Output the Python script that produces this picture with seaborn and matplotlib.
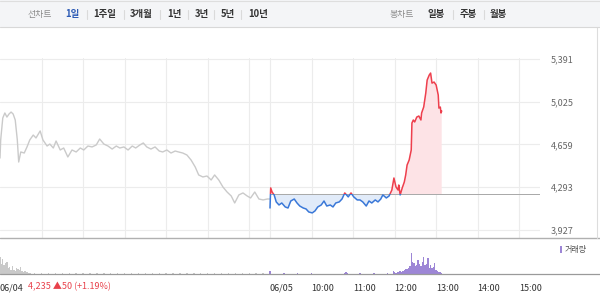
import numpy as np
import pandas as pd
import matplotlib
matplotlib.use("Agg")
import matplotlib.pyplot as plt
import seaborn as sns
from matplotlib.patches import Rectangle
from matplotlib.lines import Line2D

# ---------------- data ----------------
prev_close = 4235
y_ticks = [3927, 4293, 4659, 5025, 5391]

# 06/04 (previous day) minutes after 09:00 and price
day1_min = [0, 1, 4, 7, 10, 13, 16, 19, 22, 25, 27, 30, 35, 39, 43, 48, 52, 58, 62, 68,
            72, 77, 81, 87, 92, 98, 104, 110, 116, 121, 127, 133, 139, 144, 150, 156, 162,
            168, 173, 179, 185, 191, 196, 202, 207, 212, 218, 224, 230, 235, 241, 247, 253,
            258, 264, 270, 276, 282, 287, 293, 299, 305, 310, 316, 322, 328, 334, 339, 345,
            351, 357, 362, 368, 374, 380, 386, 390]
day1_price = [4543, 4698, 4886, 4929, 4894, 4920, 4937, 4920, 4869, 4698, 4509, 4595, 4586,
              4638, 4698, 4740, 4715, 4775, 4698, 4646, 4663, 4629, 4689, 4612, 4629, 4552,
              4612, 4595, 4629, 4612, 4646, 4638, 4655, 4706, 4663, 4646, 4620, 4646, 4629,
              4638, 4612, 4646, 4629, 4655, 4672, 4638, 4620, 4638, 4603, 4595, 4612, 4586,
              4603, 4595, 4586, 4569, 4526, 4466, 4398, 4381, 4389, 4355, 4398, 4355, 4295,
              4252, 4218, 4158, 4227, 4244, 4218, 4201, 4252, 4192, 4184, 4192, 4192]

# 06/05 (today) minutes after 09:00 and price
day2_min = [0, 1, 3, 6, 9, 13, 17, 22, 26, 30, 35, 39, 43, 48, 52, 56, 61, 65, 69, 74, 78,
            82, 87, 91, 95, 100, 104, 108, 113, 117, 121, 126, 130, 134, 139, 143, 147, 152,
            156, 160, 163, 168, 172, 176, 179, 182, 185, 186, 188, 191, 194, 196, 198, 201,
            204, 205, 207, 209, 212, 215, 218, 219, 222, 225, 227, 230, 232, 234, 237, 240,
            243, 244, 246, 247, 248]
day2_price = [4115, 4287, 4252, 4227, 4167, 4141, 4158, 4124, 4115, 4175, 4192, 4158, 4132,
              4115, 4107, 4081, 4073, 4090, 4124, 4141, 4175, 4132, 4141, 4124, 4158, 4167,
              4192, 4244, 4210, 4244, 4210, 4184, 4184, 4167, 4132, 4175, 4158, 4184, 4167,
              4192, 4227, 4201, 4218, 4269, 4372, 4295, 4269, 4312, 4227, 4287, 4338, 4398,
              4483, 4526, 4612, 4843, 4869, 4852, 4894, 4903, 4869, 4929, 4980, 5100, 5211,
              5254, 5271, 5185, 5194, 5168, 5083, 4971, 4980, 4929, 4946]

# volume (relative units)
vol1_min = [0, 2, 4, 6, 8, 10, 12, 14, 16, 18, 20, 22, 24, 26, 28, 30, 32, 34, 36, 38, 40, 42,
            44, 50, 60, 70, 80, 90, 100, 110, 120, 130, 140, 150, 160, 170, 180, 190, 200,
            210, 220, 230, 240, 250, 260, 270, 280, 290, 300, 310, 320, 330, 340, 350, 360,
            370, 380]
vol1 = [17, 10, 15, 9, 11, 12, 6, 7, 4, 8, 4, 3, 6, 5, 4, 7, 3, 2, 3, 2, 2, 1.5, 1,
        1, 0.8, 0.9, 0.7, 0.8, 1, 0.7, 0.8, 0.9, 0.7, 0.8, 0.6, 0.8, 0.9, 0.7, 0.8, 0.7,
        0.9, 0.8, 0.7, 0.8, 0.9, 0.7, 0.8, 1, 0.8, 0.7, 0.8, 0.9, 0.8, 1, 0.8, 0.9, 1]
vol2_min = [0, 20, 40, 60, 80, 108, 110, 112, 130, 150, 170, 178, 180, 182, 184, 186, 188,
            190, 192, 194, 196, 198, 200, 202, 204, 206, 208, 210, 212, 214, 216, 218, 220,
            222, 224, 226, 228, 230, 232, 234, 236, 238, 240, 242, 244, 246, 248]
vol2 = [3, 0.8, 0.6, 0.7, 0.5, 1.5, 2.5, 1, 0.7, 0.8, 1, 3, 2, 1.5, 2, 2, 3, 2.5, 3, 4, 5,
        5, 6, 8, 21, 12, 11, 8, 9, 14, 10, 8, 12, 17, 9, 10, 16, 6, 9, 6, 7, 11, 4, 3, 2, 2, 1]

vol_tick_pos = [0, 6.5, 7.5, 8.5, 9.5, 10.5, 11.5, 12.5]
vol_tick_labels = ["06/04", "06/05", "10:00", "11:00", "12:00", "13:00", "14:00", "15:00"]
grid_x = [1, 2, 3, 4, 5, 6, 6.5, 7.5, 8.5, 9.5, 10.5, 11.5, 12.5]

# ---------------- style ----------------
sns.set_theme(style="white")
plt.rcParams["font.family"] = ["Noto Sans CJK KR", "DejaVu Sans"]

W, H = 600, 305
fig = plt.figure(figsize=(6, 3.05), dpi=100)
fig.patch.set_facecolor("white")


def fy(py):
    return 1 - py / H


ax = fig.add_axes([0, fy(238), 540 / W, (238 - 58) / H])
axv = fig.add_axes([0, fy(274), 540 / W, (274 - 238) / H])

x1 = np.array(day1_min) / 60.0
x2 = 6.5 + np.array(day2_min) / 60.0
p2 = np.array(day2_price, dtype=float)

# grid
ax.set_xlim(0, 13)
ax.set_ylim(3858, 5400)
ax.set_xticks(grid_x)
ax.set_yticks(y_ticks)
ax.set_yticklabels([f"{v:,}" for v in y_ticks])
ax.grid(True, color="#ececec", lw=0.8)
ax.yaxis.tick_right()
ax.tick_params(axis="x", length=0, labelbottom=False)
ax.tick_params(axis="y", length=0, pad=8, labelsize=6.5, labelcolor="#666666")
for s in ax.spines.values():
    s.set_visible(False)

# previous day line
sns.lineplot(x=x1, y=day1_price, color="#cacaca", lw=1.0, ax=ax)

# today fills
ax.fill_between(x2, p2, prev_close, where=p2 >= prev_close, interpolate=True,
                color="#fde3e6", lw=0)
ax.fill_between(x2, p2, prev_close, where=p2 <= prev_close, interpolate=True,
                color="#e1ebf9", lw=0)
ax.hlines(prev_close, 6.5, 13, color="#a8a8a8", lw=0.7)

# red part (above previous close)
sns.lineplot(x=x2, y=p2, color="#ee3f4d", lw=1.1, ax=ax)
red_line = ax.lines[-1]
red_line.set_clip_path(Rectangle((0, prev_close), 13, 3000, transform=ax.transData))
# blue part (below previous close)
sns.lineplot(x=x2, y=p2, color="#3a78d8", lw=1.1, ax=ax)
blue_line = ax.lines[-1]
blue_line.set_clip_path(Rectangle((0, 0), 13, prev_close, transform=ax.transData))
ax.set_xlabel("")
ax.set_ylabel("")

# volume
dv1 = pd.DataFrame({"h": np.array(vol1_min) / 60.0, "v": vol1})
dv2 = pd.DataFrame({"h": 6.5 + np.array(vol2_min) / 60.0, "v": vol2})
sns.barplot(data=dv1, x="h", y="v", native_scale=True, color="#c9c9c9", width=1,
            saturation=1, errorbar=None, ax=axv, linewidth=0)
sns.barplot(data=dv2, x="h", y="v", native_scale=True, color="#9d86d6", width=1,
            saturation=1, errorbar=None, ax=axv, linewidth=0)
axv.set_xlim(0, 13)
axv.set_ylim(0, 36)
axv.set_yticks([])
axv.set_xticks(vol_tick_pos)
axv.set_xticklabels(vol_tick_labels)
axv.tick_params(axis="x", length=5, width=0.8, color="#8c8c8c", direction="out", pad=2,
                labelsize=6.5, labelcolor="#333333")
for lbl in axv.get_xticklabels():
    lbl.set_ha("left")
axv.set_xlabel("")
axv.set_ylabel("")
axv.grid(False)
for s in axv.spines.values():
    s.set_visible(False)
axv.patch.set_alpha(0)

# separators / frame
fig.add_artist(Line2D([0, 1], [fy(238), fy(238)], color="#b0b0b0", lw=1.0))
fig.add_artist(Line2D([0, 1], [fy(274), fy(274)], color="#9a9a9a", lw=0.9))
fig.add_artist(Line2D([597 / W, 597 / W], [fy(27), fy(238)], color="#dddddd", lw=0.8))

# header
fig.add_artist(Rectangle((0, fy(27)), 1, 27 / H, transform=fig.transFigure,
                         facecolor="#f4f5f7", edgecolor="none", zorder=0))
fig.add_artist(Line2D([0, 1], [fy(27), fy(27)], color="#d8d8d8", lw=0.8))
fig.add_artist(Line2D([0, 1], [fy(0.5), fy(0.5)], color="#dedede", lw=0.8))

hy = fy(14.5)
fig.text(28 / W, hy, "선차트", color="#8a8a8a", fontsize=6.4, va="center")
fig.text(65 / W, hy, "1일", color="#2d5bb5", fontsize=6.8, fontweight="bold", va="center")
for xp, t in [(93, "1주일"), (130, "3개월"), (167, "1년"), (195, "3년"), (221, "5년"),
              (248, "10년")]:
    fig.text(xp / W, hy, t, color="#333333", fontsize=6.8, fontweight="bold", va="center")
fig.text(390 / W, hy, "봉차트", color="#8a8a8a", fontsize=6.4, va="center")
for xp, t in [(428, "일봉"), (460, "주봉"), (490, "월봉")]:
    fig.text(xp / W, hy, t, color="#333333", fontsize=6.8, fontweight="bold", va="center")
for xp in [87, 124, 160, 188, 214, 241, 453, 484]:
    fig.add_artist(Line2D([xp / W, xp / W], [fy(10), fy(19)], color="#dadada", lw=0.8))

# previous close info
fig.text(28 / W, fy(287), "4,235 ▲50 (+1.19%)", color="#e8414b", fontsize=6.5,
         va="center")

# volume legend
fig.add_artist(Rectangle((560 / W, fy(253)), 2 / W, 7 / H, transform=fig.transFigure,
                         facecolor="#9d86d6", edgecolor="none"))
fig.text(565 / W, fy(249.5), "거래량", color="#555555", fontsize=5.8, va="center")

fig.savefig("out.png", dpi=100, facecolor="white")
